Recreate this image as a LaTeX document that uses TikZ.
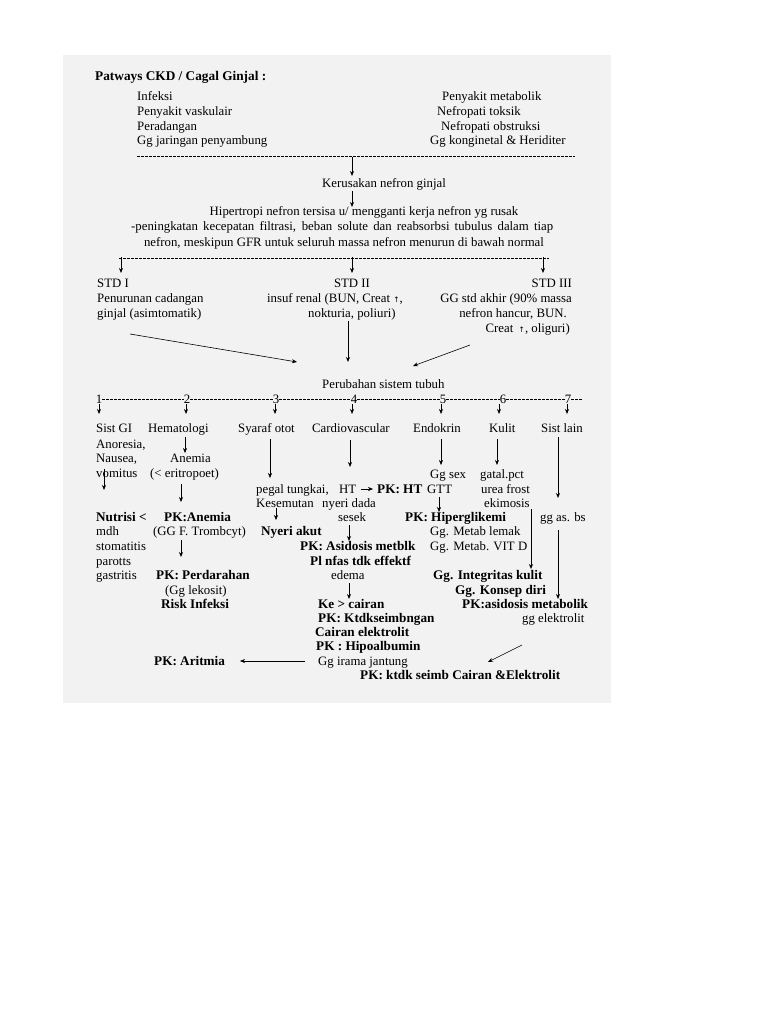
\documentclass[tikz,border=0pt]{standalone}
\usepackage{fontspec}
\setmainfont{Liberation Serif}
\newfontfamily\symf{DejaVu Sans}
\usetikzlibrary{arrows.meta}
\definecolor{bgc}{RGB}{242,242,242}
\newcommand{\up}{{\symf\fontsize{7.5}{8}\selectfont ↑}}
\begin{document}
\begin{tikzpicture}[x=1pt,y=-1pt,
  t/.style={anchor=base west,inner sep=0pt,font=\fontsize{12.8}{14}\selectfont},
  tb/.style={t,font=\fontsize{13.2}{14}\selectfont\bfseries},
  tc/.style={t,anchor=base},
  te/.style={t,anchor=base east},
  arr/.style={-{Stealth[length=5pt,width=4pt]},line width=0.7pt},
  dl/.style={line width=0.4pt,dash pattern=on 2.6pt off 1.4pt}]
\useasboundingbox (0,0) rectangle (768,1024);
\fill[white] (0,0) rectangle (768,1024);
\fill[bgc] (63,55) rectangle (611,703);
% title
\node[tb,font=\fontsize{13.3}{14}\selectfont\bfseries] (title) at (95,81) {Patways CKD / Cagal Ginjal :};
% causes
\node[t] (c1) at (137,101) {Infeksi};
\node[t] (c2) at (137,116) {Penyakit vaskulair};
\node[t] (c3) at (137,131) {Peradangan};
\node[t] (c4) at (137,145) {Gg jaringan penyambung};
\node[t] (c5) at (442,101) {Penyakit metabolik};
\node[t] (c6) at (437,116) {Nefropati toksik};
\node[t] (c7) at (441,131) {Nefropati obstruksi};
\node[t] (c8) at (430,145) {Gg konginetal \& Heriditer};
\coordinate (d1a) at (137,156); \coordinate (d1b) at (575,156);
\draw[dl] (d1a) -- (d1b);
\coordinate (a1s) at (352,157); \coordinate (a1e) at (352,176);
\draw[arr] (a1s) -- (a1e);
\node[t] (kerus) at (322,188) {Kerusakan nefron ginjal};
\coordinate (a2s) at (352,191); \coordinate (a2e) at (352,207);
\draw[arr] (a2s) -- (a2e);
\node[tc] (hiper) at (364,216) {Hipertropi nefron tersisa u/ mengganti kerja nefron yg rusak};
\node[t] (pen1) at (131,231) {\makebox[422pt][s]{-peningkatan kecepatan filtrasi, beban solute dan reabsorbsi tubulus dalam tiap}};
\node[tc] (pen2) at (344,246) {nefron, meskipun GFR untuk seluruh massa nefron menurun di bawah normal};
\coordinate (d2a) at (119,258); \coordinate (d2b) at (549,258);
\draw[dl] (d2a) -- (d2b);
\coordinate (s1a) at (121,257); \coordinate (s1b) at (121,273);
\coordinate (s2a) at (352,257); \coordinate (s2b) at (352,273);
\coordinate (s3a) at (543,257); \coordinate (s3b) at (543,273);
\draw[arr] (s1a) -- (s1b);
\draw[arr] (s2a) -- (s2b);
\draw[arr] (s3a) -- (s3b);
% STD
\node[t] (std1) at (97,287) {STD I};
\node[tc] (std2) at (352,287) {STD II};
\node[te] (std3) at (572,287) {STD III};
\node[t] (std1a) at (97,302) {Penurunan cadangan};
\node[t] (std1b) at (97,317) {ginjal (asimtomatik)};
\node[te] (std2a) at (403,302) {insuf renal (BUN, Creat \up,};
\node[t] (std2b) at (308,317) {nokturia, poliuri)};
\node[te] (std3a) at (572,302) {GG std akhir (90\% massa};
\node[te] (std3b) at (567,317) {nefron hancur, BUN.};
\node[te] (std3c) at (570,332) {Creat \,\up, oliguri)};
\coordinate (m1a) at (130,334); \coordinate (m1b) at (297,362);
\coordinate (m2a) at (348,321); \coordinate (m2b) at (348,362);
\coordinate (m3a) at (470,345); \coordinate (m3b) at (413,366);
\draw[arr,line width=0.6pt] (m1a) -- (m1b);
\draw[arr] (m2a) -- (m2b);
\draw[arr,line width=0.6pt] (m3a) -- (m3b);
\node[t] (perub) at (322,388) {Perubahan sistem tubuh};
% numbered line
\node[tc] (n1) at (99,403) {1};
\node[tc] (n2) at (187,403) {2};
\node[tc] (n3) at (276,403) {3};
\node[tc] (n4) at (354,403) {4};
\node[tc] (n5) at (443,403) {5};
\node[tc] (n6) at (503,403) {6};
\node[tc] (n7) at (568,403) {7};
\coordinate (ne) at (582,399);
\draw[dl] (n1.east |- ne) -- (n2.west |- ne);
\draw[dl] (n2.east |- ne) -- (n3.west |- ne);
\draw[dl] (n3.east |- ne) -- (n4.west |- ne);
\draw[dl] (n4.east |- ne) -- (n5.west |- ne);
\draw[dl] (n5.east |- ne) -- (n6.west |- ne);
\draw[dl] (n6.east |- ne) -- (n7.west |- ne);
\draw[dl] (n7.east |- ne) -- (ne);
\foreach \i/\x in {1/99,2/186,3/275,4/352,5/441,6/499,7/567}{
  \coordinate (na\i) at (\x,404); \coordinate (nb\i) at (\x,414);
  \draw[arr] (na\i) -- (nb\i);}
% systems
\node[t] (gi) at (96,432) {Sist GI};
\node[t] (hem) at (148,432) {Hematologi};
\node[t] (syr) at (238,432) {Syaraf otot};
\node[t] (cv) at (312,432) {Cardiovascular};
\node[t] (endo) at (413,432) {Endokrin};
\node[t] (kul) at (489,432) {Kulit};
\node[t] (sl) at (541,432) {Sist lain};
% GI column
\node[t] (gi1) at (96,448) {Anoresia,};
\node[t] (gi2) at (96,462) {Nausea,};
\node[t] (gi3) at (96,477) {vomitus};
\coordinate (g1a) at (104,469); \coordinate (g1b) at (104,490);
\draw[arr] (g1a) -- (g1b);
\node[tb] (gi4) at (96,521) {Nutrisi <};
\node[t] (gi5) at (96,535) {mdh};
\node[t] (gi6) at (96,550) {stomatitis};
\node[t] (gi7) at (96,565) {parotts};
\node[t] (gi8) at (96,579) {gastritis};
% hematologi column
\coordinate (h1a) at (185,437); \coordinate (h1b) at (185,453);
\draw[arr,line width=0.5pt] (h1a) -- (h1b);
\node[t] (hem1) at (170,462) {Anemia};
\node[t] (hem2) at (150,477) {(< eritropoet)};
\coordinate (h2a) at (181,484); \coordinate (h2b) at (181,502);
\draw[arr] (h2a) -- (h2b);
\node[tb] (hem3) at (164,521) {PK:Anemia};
\node[t] (hem4) at (153,535) {(GG F. Trombcyt)};
\coordinate (h3a) at (181,540); \coordinate (h3b) at (181,557);
\draw[arr] (h3a) -- (h3b);
\node[tb] (hem5) at (156,579) {PK: Perdarahan};
\node[t] (hem6) at (165,594) {(Gg lekosit)};
\node[tb] (hem7) at (161,608) {Risk Infeksi};
% syaraf column
\coordinate (y1a) at (270,439); \coordinate (y1b) at (270,478);
\draw[arr,line width=0.45pt] (y1a) -- (y1b);
\node[t] (syr1) at (256,493) {pegal tungkai,};
\node[t] (syr2) at (256,507) {Kesemutan};
\coordinate (y2a) at (276,508); \coordinate (y2b) at (276,520);
\draw[arr,line width=0.45pt] (y2a) -- (y2b);
\node[tb] (syr3) at (261,535) {Nyeri akut};
% cardiovascular column
\coordinate (v1a) at (350,440); \coordinate (v1b) at (350,467);
\draw[arr] (v1a) -- (v1b);
\node[t] (ht) at (339,493) {HT};
\node[tb] (pkht) at (377,493) {PK: HT};
\coordinate (hta) at (361,489); \coordinate (htb) at (373,489);
\draw[arr,line width=0.5pt] (hta) -- (htb);
\node[t] (cv2) at (322,507) {nyeri dada};
\node[t] (cv3) at (338,521) {sesek};
\coordinate (v2a) at (349,525); \coordinate (v2b) at (349,541);
\draw[arr] (v2a) -- (v2b);
\node[tb] (cv4) at (300,550) {PK: Asidosis metblk};
\node[tb] (cv5) at (310,565) {Pl nfas tdk effektf};
\node[t] (cv6) at (331,579) {edema};
\coordinate (v3a) at (349,583); \coordinate (v3b) at (349,599);
\draw[arr] (v3a) -- (v3b);
\node[tb] (cv7) at (318,608) {Ke > cairan};
\node[tb] (cv8) at (318,622) {PK: Ktdkseimbngan};
\node[tb] (cv9) at (315,636) {Cairan elektrolit};
\node[tb] (cv10) at (316,650) {PK : Hipoalbumin};
\node[t] (cv11) at (318,665) {Gg irama jantung};
\node[tb] (arit) at (154,665) {PK: Aritmia};
\coordinate (ar1) at (305,661); \coordinate (ar2) at (240,661);
\draw[arr,line width=0.5pt] (ar1) -- (ar2);
\node[tb] (fin) at (360,679) {PK: ktdk seimb Cairan \&Elektrolit};
% endokrin column
\coordinate (e1a) at (441,439); \coordinate (e1b) at (441,465);
\draw[arr,line width=0.5pt] (e1a) -- (e1b);
\node[t] (en1) at (430,478) {Gg sex};
\node[t] (en2) at (427,493) {GTT};
\coordinate (e2a) at (439,497); \coordinate (e2b) at (439,512);
\draw[arr,line width=0.5pt] (e2a) -- (e2b);
\node[tb] (en3) at (405,521) {PK: Hiperglikemi};
\node[t] (en4) at (430,535) {Gg. Metab lemak};
\node[t] (en5) at (430,550) {Gg. Metab. VIT D};
% kulit column
\coordinate (k1a) at (497,439); \coordinate (k1b) at (497,465);
\draw[arr] (k1a) -- (k1b);
\node[t] (ku1) at (480,478) {gatal.pct};
\node[t] (ku2) at (481,493) {urea frost};
\node[t] (ku3) at (484,507) {ekimosis};
\coordinate (k2a) at (531,509); \coordinate (k2b) at (531,569);
\draw[arr] (k2a) -- (k2b);
\node[tb] (ku4) at (433,579) {Gg. Integritas kulit};
\node[tb] (ku5) at (455,594) {Gg. Konsep diri};
% sist lain column
\coordinate (l1a) at (558,437); \coordinate (l1b) at (558,498);
\draw[arr] (l1a) -- (l1b);
\node[t] (sl1) at (540,521) {gg as. bs};
\coordinate (l2a) at (558,530); \coordinate (l2b) at (558,599);
\draw[arr] (l2a) -- (l2b);
\node[tb] (sl2) at (462,608) {PK:asidosis metabolik};
\node[t] (sl3) at (522,622) {gg elektrolit};
\coordinate (l3a) at (522,645); \coordinate (l3b) at (488,662);
\draw[arr,line width=0.6pt] (l3a) -- (l3b);
\end{tikzpicture}
\end{document}
